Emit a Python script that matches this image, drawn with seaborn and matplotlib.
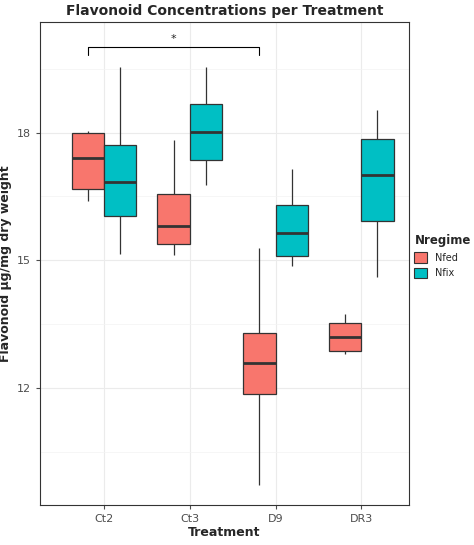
import pandas as pd
import seaborn as sns
import matplotlib.pyplot as plt
from matplotlib.patches import Patch

# five-number summaries (min, q1, median, q3, max)
treatments = ["Ct2", "Ct3", "D9", "DR3"]
nfed = {
    "Ct2": [16.4, 16.67, 17.4, 18.0, 18.03],
    "Ct3": [15.12, 15.38, 15.8, 16.55, 17.83],
    "D9": [9.73, 11.85, 12.6, 13.3, 15.28],
    "DR3": [12.8, 12.88, 13.2, 13.53, 13.75],
}
nfix = {
    "Ct2": [15.15, 16.05, 16.83, 17.7, 19.53],
    "Ct3": [16.76, 17.36, 18.02, 18.68, 19.53],
    "D9": [14.86, 15.1, 15.65, 16.3, 17.15],
    "DR3": [14.6, 15.93, 17.0, 17.86, 18.54],
}
regimes = ["Nfed", "Nfix"]
colors = ["#F8766D", "#00BFC4"]

rows = []
for regime, d in zip(regimes, [nfed, nfix]):
    for t in treatments:
        for v in d[t]:
            rows.append({"Treatment": t, "Nregime": regime, "Flavonoid": v})
df = pd.DataFrame(rows)

sns.set_style("white")
fig, ax = plt.subplots(figsize=(4.74, 5.45), dpi=100)
plt.subplots_adjust(left=0.085, right=0.862, top=0.96, bottom=0.073)

sns.boxplot(data=df, x="Treatment", y="Flavonoid", hue="Nregime", order=treatments,
            hue_order=regimes, palette=colors, width=0.75, gap=0, whis=10,
            showcaps=False, linecolor="#333333", linewidth=0.9, saturation=1,
            medianprops={"linewidth": 2}, legend=False, ax=ax)

ax.set_ylim(9.25, 20.6)
ax.set_yticks([12, 15, 18])
ax.set_yticks([10.5, 13.5, 16.5, 19.5], minor=True)
ax.set_xlim(-0.74, 3.55)
ax.grid(True, which="major", color="#EBEBEB", linewidth=0.8)
ax.grid(True, which="minor", color="#F3F3F3", linewidth=0.5)
ax.xaxis.grid(True, color="#EBEBEB", linewidth=0.8)
ax.set_axisbelow(True)
for s in ax.spines.values():
    s.set_color("#333333")
    s.set_linewidth(0.8)
ax.tick_params(axis="both", labelsize=8, colors="#4D4D4D", length=3, left=True, bottom=True)
ax.set_xlabel("Treatment", fontsize=9, fontweight="bold", labelpad=1)
ax.set_ylabel("Flavonoid µg/mg dry weight", fontsize=9, fontweight="bold")
ax.set_title("Flavonoid Concentrations per Treatment", fontsize=10, fontweight="bold", pad=5)

# significance bracket
x1, x2, yb = -0.1875, 1.8125, 20.0
ax.plot([x1, x1, x2, x2], [yb - 0.18, yb, yb, yb - 0.18], color="black", linewidth=0.8)
ax.text((x1 + x2) / 2, yb + 0.08, "*", ha="center", va="bottom", fontsize=8)

handles = [Patch(facecolor=c, edgecolor="#333333", linewidth=0.8) for c in colors]
leg = fig.legend(handles, regimes, title="Nregime", loc="center left",
                 bbox_to_anchor=(0.862, 0.53), frameon=False, fontsize=7,
                 title_fontproperties={"weight": "bold", "size": 8.5},
                 handlelength=1.3, handleheight=1.3, borderaxespad=0.2)
leg._legend_box.align = "left"

fig.savefig("out.png", dpi=100)
